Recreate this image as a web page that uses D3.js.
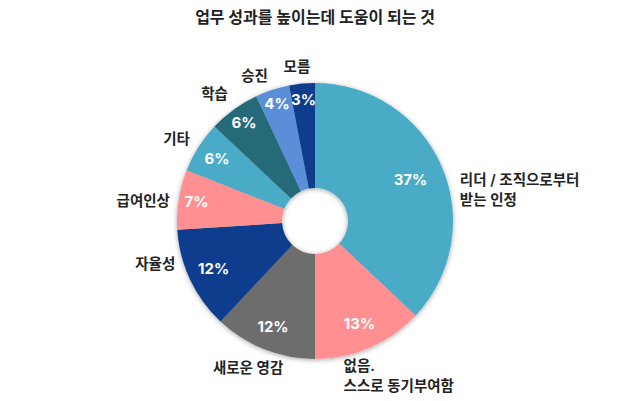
<!DOCTYPE html>
<html>
<head>
<meta charset="utf-8">
<script src="https://cdn.jsdelivr.net/npm/d3@7"></script>
<style>
  body { margin: 0; background: #fff; }
  text { font-family: Inter, "Noto Sans CJK KR", "Noto Sans", sans-serif; }
</style>
</head>
<body>
<div id="chart"></div>
<script>
var width = 630, height = 401;
var cx = 315, cy = 221;
var outerR = 138, innerR = 33;

// data
var title = "업무 성과를 높이는데 도움이 되는 것";
var categories = ["리더 / 조직으로부터\n받는 인정", "없음.\n스스로 동기부여함", "새로운 영감", "자율성",
  "급여인상", "기타", "학습", "승진", "모름"];
var values = [37, 13, 12, 12, 7, 6, 6, 4, 3];
var colors = ["#4aabc6", "#ff8f90", "#6d6d6d", "#0b3e8c", "#ff8f90", "#4aabc6", "#266a7a", "#5a8ed8", "#0b3e8c"];

// layout only: label nudges and radius of the percentage labels
var nudge = [[-2, 32], [-35, 8], [-8, -2], [5, -25], [13, 5], [10, 4], [7, 2], [-11, 7], [-3, 5]];
var anchors = ["start", "start", "middle", "end", "end", "end", "end", "middle", "middle"];
var pctR = [104, 112, 114, 112, 120, 116, 121, 123, 122];

var svg = d3.select("#chart").append("svg")
  .attr("width", width)
  .attr("height", height);

var defs = svg.append("defs");
var f = defs.append("filter").attr("id", "shadow")
  .attr("x", "-20%").attr("y", "-20%").attr("width", "140%").attr("height", "140%");
f.append("feDropShadow")
  .attr("dx", 0).attr("dy", 1)
  .attr("stdDeviation", 2.5)
  .attr("flood-color", "#000")
  .attr("flood-opacity", 0.35);

svg.append("text")
  .attr("x", width / 2)
  .attr("y", 23)
  .attr("text-anchor", "middle")
  .style("font-size", "16px")
  .style("font-weight", "bold")
  .style("fill", "#222")
  .text(title);

var pie = d3.pie().sort(null).value(function(d){ return d; });
var arcs = pie(values);

var arc = d3.arc().innerRadius(innerR).outerRadius(outerR);
var labelArc = d3.arc().innerRadius(160).outerRadius(160);

var g = svg.append("g")
  .attr("transform", "translate(" + cx + "," + cy + ")");

g.append("g")
  .attr("filter", "url(#shadow)")
  .selectAll("path")
  .data(arcs)
  .enter().append("path")
  .attr("d", arc)
  .attr("fill", function(d, i){ return colors[i]; });

// percentage labels inside the slices
g.selectAll("text.pct")
  .data(arcs)
  .enter().append("text")
  .attr("class", "pct")
  .attr("transform", function(d, i){
    var a = d3.arc().innerRadius(pctR[i]).outerRadius(pctR[i]);
    return "translate(" + a.centroid(d) + ")";
  })
  .attr("text-anchor", "middle")
  .attr("dy", "0.35em")
  .style("font-size", "15px")
  .style("font-weight", "bold")
  .style("fill", "#fff")
  .text(function(d){ return d.value + "%"; });

// category labels outside
var lbl = g.selectAll("text.cat")
  .data(arcs)
  .enter().append("text")
  .attr("class", "cat")
  .attr("transform", function(d, i){
    var p = labelArc.centroid(d);
    return "translate(" + (p[0] + nudge[i][0]) + "," + (p[1] + nudge[i][1]) + ")";
  })
  .attr("text-anchor", function(d, i){ return anchors[i]; })
  .style("font-size", "14.5px")
  .style("font-weight", "600")
  .style("fill", "#222");

lbl.each(function(d, i){
  var lines = categories[i].split("\n");
  var t = d3.select(this);
  var y0 = -(lines.length - 1) * 10;
  lines.forEach(function(line, k){
    t.append("tspan")
      .attr("x", 0)
      .attr("y", y0 + k * 20)
      .attr("dy", "0.35em")
      .text(line);
  });
});
</script>
</body>
</html>
